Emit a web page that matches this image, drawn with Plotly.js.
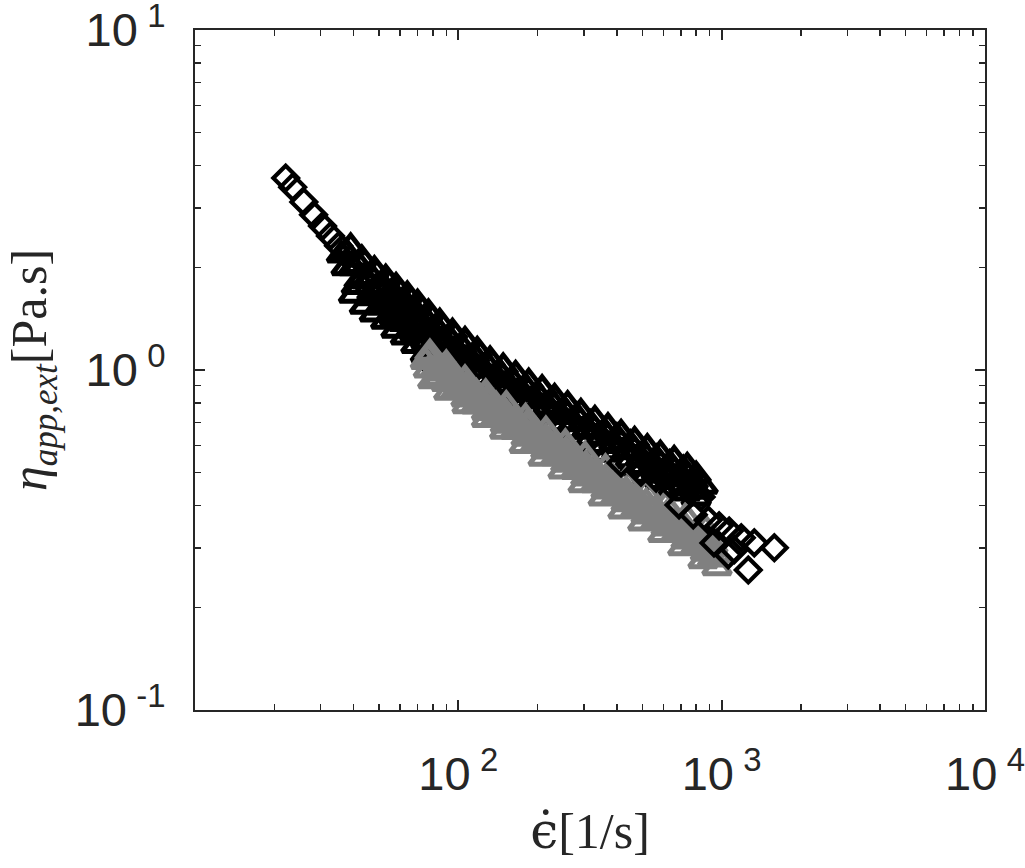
<!DOCTYPE html>
<html>
<head>
<meta charset="utf-8">
<script src="https://cdn.plot.ly/plotly-3.0.1.min.js"></script>
<style>html,body{margin:0;padding:0;background:#fff;}#chart{width:1025px;height:868px;}</style>
</head>
<body>
<div id="chart"></div>
<script>
// Black open diamonds, low strain-rate end
const diamondLeftX = [22.1, 23.5, 25.9, 28.2, 30.5, 32.7, 35.1, 37.3];
const diamondLeftY = [3.67, 3.45, 3.12, 2.86, 2.65, 2.48, 2.32, 2.19];

// Black open diamonds, high strain-rate end
const diamondRightX = [415, 494, 564, 643, 752, 835, 689, 780, 889, 978, 1068, 1187, 1330, 1585, 935, 1059, 1262, 1117];
const diamondRightY = [0.533, 0.501, 0.481, 0.459, 0.444, 0.423, 0.401, 0.375, 0.362, 0.348, 0.336, 0.321, 0.310, 0.300, 0.310, 0.286, 0.258, 0.296];

// Black open triangles
const blackTriX = [
  39, 43, 48, 53, 58, 64, 70, 77, 85, 95, 106, 118, 132, 148, 165, 185, 208, 232, 260, 292, 330, 370, 415, 467, 522, 585, 660, 740,
  36, 40, 45, 50, 55, 60, 66, 72, 80, 90, 100, 112, 125, 140, 155, 175, 195, 220, 245, 275, 310, 350, 390, 440, 495, 550, 620, 700, 780, 850,
  41, 46, 51, 57, 62, 68, 75, 83, 93, 104, 116, 130, 146, 162, 182, 205, 230, 258, 290, 328, 368, 412, 462, 520, 585, 655, 730, 800,
  37.5, 42, 47, 52, 57, 62, 68, 75, 83, 92, 103, 115, 128, 144, 160, 180, 200, 225, 252, 282, 318, 358, 400, 450, 505, 565, 635, 715, 800,
  37.5, 42, 47, 52, 57, 62, 68, 75, 83, 92, 103, 115, 128, 144, 160, 180, 200, 225, 252, 282, 318, 358, 400, 450, 505, 565, 635, 715, 800,
  40, 44, 48, 53, 58, 63, 69, 75, 82, 90
];
const blackTriY = [
  2.30, 2.12, 1.97, 1.86, 1.76, 1.66, 1.57, 1.47, 1.38, 1.29, 1.22, 1.14, 1.07, 1.02, 0.97, 0.92, 0.88, 0.83, 0.79, 0.75, 0.715, 0.68, 0.65, 0.62, 0.59, 0.565, 0.545, 0.52,
  2.18, 2.00, 1.83, 1.72, 1.62, 1.55, 1.46, 1.38, 1.29, 1.20, 1.13, 1.07, 1.00, 0.95, 0.90, 0.86, 0.82, 0.78, 0.74, 0.70, 0.67, 0.635, 0.61, 0.58, 0.55, 0.53, 0.51, 0.49, 0.47, 0.455,
  1.76, 1.63, 1.53, 1.43, 1.37, 1.29, 1.22, 1.14, 1.06, 1.00, 0.95, 0.89, 0.845, 0.80, 0.765, 0.73, 0.69, 0.66, 0.625, 0.595, 0.565, 0.54, 0.515, 0.49, 0.47, 0.45, 0.435, 0.42,
  2.22, 2.03, 1.87, 1.76, 1.67, 1.60, 1.50, 1.41, 1.32, 1.245, 1.17, 1.10, 1.04, 0.98, 0.935, 0.89, 0.85, 0.81, 0.765, 0.73, 0.695, 0.66, 0.635, 0.605, 0.57, 0.55, 0.53, 0.51, 0.49,
  2.00, 1.83, 1.69, 1.60, 1.51, 1.44, 1.36, 1.27, 1.20, 1.125, 1.06, 1.00, 0.94, 0.89, 0.845, 0.81, 0.77, 0.73, 0.695, 0.66, 0.63, 0.60, 0.575, 0.545, 0.52, 0.50, 0.48, 0.46, 0.44,
  1.66, 1.54, 1.46, 1.39, 1.31, 1.25, 1.18, 1.11, 1.05, 1.00
];

// Gray open triangles
const grayTriX = [
  78, 90, 106, 127, 152, 180, 215, 255, 303, 362, 432, 515, 612, 730, 870,
  75, 82, 86, 94, 102, 112, 122, 133, 145, 158, 173, 189, 206, 225, 245, 268, 292, 318, 348, 380, 415, 453, 494, 540, 589, 643, 701, 765, 835, 900, 953,
  80, 92, 108, 128, 150, 178, 210, 250, 298, 355, 422, 502, 598, 712, 850, 960,
  77, 84, 90, 98, 107, 117, 128, 139, 151, 165, 181, 197, 215, 235, 256, 280, 305, 333, 364, 397, 434, 473, 517, 564, 616, 672, 733, 800, 868, 925,
  77, 84, 90, 98, 107, 117, 128, 139, 151, 165, 181, 197, 215, 235, 256, 280, 305, 333, 364, 397, 434, 473, 517, 564, 616, 672, 733, 800, 868, 925
];
const grayTriY = [
  1.12, 1.04, 0.94, 0.855, 0.79, 0.725, 0.665, 0.61, 0.56, 0.515, 0.47, 0.435, 0.40, 0.37, 0.34,
  1.06, 1.00, 0.98, 0.93, 0.885, 0.84, 0.805, 0.77, 0.738, 0.705, 0.675, 0.645, 0.618, 0.59, 0.566, 0.54, 0.515, 0.493, 0.472, 0.452, 0.432, 0.414, 0.398, 0.382, 0.367, 0.351, 0.336, 0.322, 0.310, 0.297, 0.286,
  0.93, 0.86, 0.785, 0.715, 0.66, 0.60, 0.55, 0.505, 0.46, 0.42, 0.385, 0.355, 0.328, 0.30, 0.275, 0.262,
  1.09, 1.035, 1.00, 0.945, 0.90, 0.857, 0.82, 0.787, 0.752, 0.721, 0.69, 0.66, 0.632, 0.604, 0.578, 0.551, 0.527, 0.504, 0.483, 0.462, 0.442, 0.424, 0.408, 0.391, 0.375, 0.358, 0.344, 0.33, 0.317, 0.304,
  1.00, 0.945, 0.912, 0.864, 0.821, 0.783, 0.75, 0.719, 0.688, 0.659, 0.63, 0.604, 0.578, 0.552, 0.528, 0.503, 0.481, 0.46, 0.441, 0.422, 0.404, 0.388, 0.372, 0.357, 0.343, 0.328, 0.314, 0.302, 0.289, 0.278
];

// Axis ticks
const xTickVals = [100, 1000, 10000];
const xTickText = ['10\u2009<sup>2</sup>', '10\u2009<sup>3</sup>', '10\u2009<sup>4</sup>'];
const yTickVals = [0.1, 1, 10];
const yTickText = ['10\u2009<sup>-1</sup>', '10\u2009<sup>0</sup>', '10\u2009<sup>1</sup>'];
const xMinor = [20,30,40,50,60,70,80,90,200,300,400,500,600,700,800,900,2000,3000,4000,5000,6000,7000,8000,9000];
const yMinor = [0.2,0.3,0.4,0.5,0.6,0.7,0.8,0.9,2,3,4,5,6,7,8,9];

const axisColor = '#262626';
const tickFont = {family: 'Liberation Sans, Arial, sans-serif', size: 47, color: axisColor};
const titleFont = {family: 'Liberation Serif, DejaVu Serif, serif', size: 50, color: axisColor};

const triSize = 24, triLine = 5, diaSize = 19, diaLine = 4.2;
const traces = [
  {x: blackTriX, y: blackTriY, type: 'scatter', mode: 'markers', hoverinfo: 'skip',
   marker: {symbol: 'triangle-up-open', size: triSize, color: '#000000', line: {width: triLine, color: '#000000'}}},
  {x: grayTriX, y: grayTriY, type: 'scatter', mode: 'markers', hoverinfo: 'skip',
   marker: {symbol: 'triangle-up-open', size: triSize, color: '#808080', line: {width: triLine, color: '#808080'}}},
  {x: diamondLeftX, y: diamondLeftY, type: 'scatter', mode: 'markers', hoverinfo: 'skip',
   marker: {symbol: 'diamond-open', size: diaSize, color: '#000000', line: {width: diaLine, color: '#000000'}}},
  {x: diamondRightX, y: diamondRightY, type: 'scatter', mode: 'markers', hoverinfo: 'skip',
   marker: {symbol: 'diamond-open', size: diaSize, color: '#000000', line: {width: diaLine, color: '#000000'}}}
];

const layout = {
  width: 1025, height: 868,
  margin: {l: 195, r: 40, t: 30, b: 158},
  paper_bgcolor: '#ffffff', plot_bgcolor: '#ffffff',
  showlegend: false,
  xaxis: {
    type: 'log', range: [1, 4], showgrid: false, zeroline: false,
    showline: true, linecolor: axisColor, linewidth: 2, mirror: 'ticks',
    ticks: 'inside', ticklen: 10, tickwidth: 2, tickcolor: axisColor,
    tickmode: 'array', tickvals: xTickVals, ticktext: xTickText,
    tickfont: tickFont, ticklabelstandoff: 22, ticklabeloverflow: 'allow',
    minor: {tickmode: 'array', tickvals: xMinor, ticks: 'inside', ticklen: 6, tickwidth: 1.5, tickcolor: axisColor, showgrid: false},
    title: {text: '<span style="font-family:DejaVu Serif">\u03F5\u0307</span>[1/s]', font: titleFont, standoff: 14}
  },
  yaxis: {
    type: 'log', range: [-1, 1], showgrid: false, zeroline: false,
    showline: true, linecolor: axisColor, linewidth: 2, mirror: 'ticks',
    ticks: 'inside', ticklen: 10, tickwidth: 2, tickcolor: axisColor,
    tickmode: 'array', tickvals: yTickVals, ticktext: yTickText,
    tickfont: tickFont, ticklabelstandoff: 18, ticklabeloverflow: 'allow',
    minor: {tickmode: 'array', tickvals: yMinor, ticks: 'inside', ticklen: 6, tickwidth: 1.5, tickcolor: axisColor, showgrid: false},
    title: {text: '<i>\u03B7</i><sub><i>app,ext</i></sub>[Pa.s]', font: titleFont, standoff: 12}
  }
};

Plotly.newPlot('chart', traces, layout, {displayModeBar: false, staticPlot: true});
</script>
</body>
</html>
